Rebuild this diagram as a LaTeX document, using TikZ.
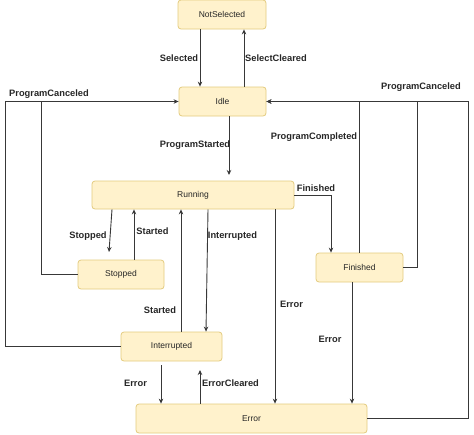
\documentclass[tikz,border=0pt]{standalone}
\usepackage{fontspec}
\setmainfont{Liberation Sans}
\usetikzlibrary{arrows.meta}
\definecolor{boxfill}{HTML}{FFF2CC}
\definecolor{boxline}{HTML}{E3CB7E}
\definecolor{conncol}{HTML}{383838}
\tikzset{
  state/.style={draw=boxline, fill=boxfill, rounded corners=3pt, line width=0.8pt,
    inner sep=0pt, font=\fontsize{8.5}{10}\selectfont, text=black!85},
  conn/.style={draw=conncol, line width=0.9pt, -{Stealth[length=5pt,width=4.5pt]}},
  plain/.style={draw=conncol, line width=0.9pt},
  lbl/.style={font=\bfseries\fontsize{9.3}{11}\selectfont, text=black!85, inner sep=0pt}
}
\begin{document}
\begin{tikzpicture}[x=1pt,y=-1pt]
\useasboundingbox (0,0) rectangle (474,434);
% states
\node[state, minimum width=88pt, minimum height=29pt] (NotSelected) at (222,14.5) {NotSelected};
\node[state, minimum width=87pt, minimum height=29pt] (Idle) at (222.5,101.5) {Idle};
\node[state, minimum width=202pt, minimum height=28pt] (Running) at (193,195) {Running};
\node[state, minimum width=86pt, minimum height=29pt] (Stopped) at (121,274.5) {Stopped};
\node[state, minimum width=101pt, minimum height=29pt] (Interrupted) at (171.5,346.5) {Interrupted};
\node[state, minimum width=87pt, minimum height=29pt] (Finished) at (359.5,267.5) {Finished};
\node[state, minimum width=231pt, minimum height=29pt] (Error) at (251.5,418.5) {Error};
% helper x positions
\coordinate (xa) at (200,0);
\coordinate (xb) at (244,0);
\coordinate (xc) at (229,0);
\coordinate (xd) at (112,0);
\coordinate (xd2) at (109,0);
\coordinate (xe) at (134,0);
\coordinate (xf) at (181,0);
\coordinate (xg) at (208,0);
\coordinate (xg2) at (206,0);
\coordinate (xh) at (275,0);
\coordinate (xi) at (331,0);
\coordinate (xj) at (352,0);
\coordinate (xk) at (161,0);
\coordinate (xl) at (200,0);
\coordinate (xL1) at (5,0);
\coordinate (xL2) at (41,0);
\coordinate (xR1) at (417,0);
\coordinate (xR2) at (468,0);
\coordinate (yPS) at (0,175);
\coordinate (yST) at (0,252);
\coordinate (yIE) at (0,365);
\coordinate (yEC) at (0,370);
% connectors
\draw[conn] (NotSelected.south -| xa) -- (Idle.north -| xa);
\draw[conn] (Idle.north -| xb) -- (NotSelected.south -| xb);
\draw[conn] (Idle.south -| xc) -- (yPS -| xc);
\draw[conn] (Running.south -| xd) -- (yST -| xd2);
\draw[conn] (Stopped.north -| xe) -- (Running.south -| xe);
\draw[conn] (Interrupted.north -| xf) -- (Running.south -| xf);
\draw[conn] (Running.south -| xg) -- (Interrupted.north -| xg2);
\draw[conn] (Running.south -| xh) -- (Error.north -| xh);
\draw[conn] (Running.east |- 0,195) -| (Finished.north -| xi);
\draw[conn] (Finished.south -| xj) -- (Error.north -| xj);
\draw[conn] (yIE -| xk) -- (Error.north -| xk);
\draw[conn] (Error.north -| xl) -- (yEC -| xl);
% ProgramCanceled loops (left)
\draw[conn] (Interrupted.west) -- (Interrupted.west -| xL1) -- (Idle.west -| xL1) -- (Idle.west);
\draw[plain] (Stopped.west) -- (Stopped.west -| xL2) -- (Idle.west -| xL2);
% right side loops
\draw[conn] (Finished.north) -- (Idle.east -| Finished.north) -- (Idle.east);
\draw[plain] (Finished.east) -- (Finished.east -| xR1) -- (Idle.east -| xR1);
\draw[conn] (Error.east) -- (Error.east -| xR2) -- (Idle.east -| xR2) -- (Idle.east);
% labels
\node[lbl] (lSelected) at (179,58) {Selected};
\node[lbl] (lSelectCleared) at (276,58) {SelectCleared};
\node[lbl] (lPCleft) at (49,94) {ProgramCanceled};
\node[lbl] (lPCright) at (421,87) {ProgramCanceled};
\node[lbl] (lPComp) at (314,137) {ProgramCompleted};
\node[lbl] (lPStart) at (195,145) {ProgramStarted};
\node[lbl] (lFinished) at (316,188) {Finished};
\node[lbl] (lStopped) at (88,236) {Stopped};
\node[lbl] (lStarted1) at (152.5,231) {Started};
\node[lbl] (lInterrupted) at (232.5,236) {Interrupted};
\node[lbl] (lStarted2) at (160,310) {Started};
\node[lbl] (lErr1) at (291.5,304) {Error};
\node[lbl] (lErr2) at (330,339) {Error};
\node[lbl] (lErr3) at (135.5,383) {Error};
\node[lbl] (lErrCleared) at (230.5,383) {ErrorCleared};
\end{tikzpicture}
\end{document}
